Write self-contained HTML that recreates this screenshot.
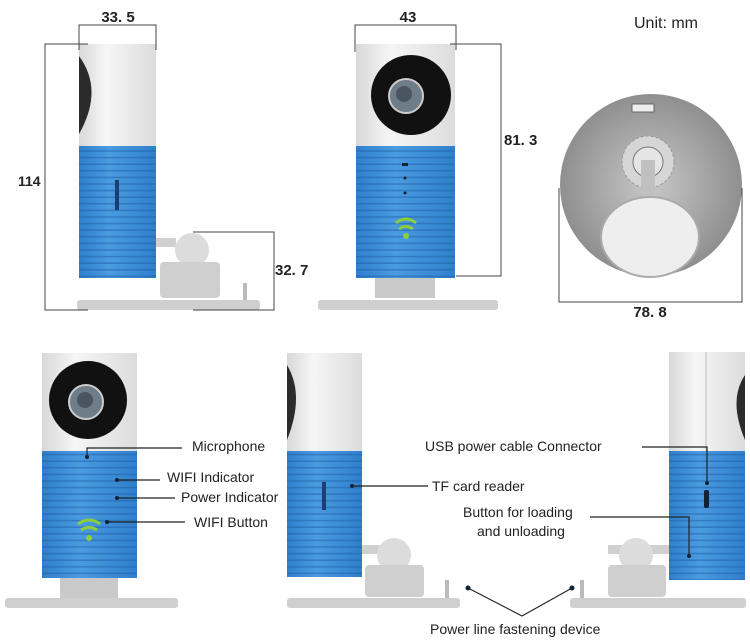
<!DOCTYPE html>
<html><head><meta charset="utf-8"><style>
body{margin:0;background:#fff}
svg{display:block}
text{font-family:"Liberation Sans",Arial,sans-serif;fill:#222}
</style></head><body>
<svg width="750" height="643" viewBox="0 0 750 643" xmlns="http://www.w3.org/2000/svg">
<defs>
<linearGradient id="wh" x1="0" x2="1"><stop offset="0" stop-color="#d8d8d8"/><stop offset=".35" stop-color="#f6f6f6"/><stop offset="1" stop-color="#dcdcdc"/></linearGradient>
<linearGradient id="bl" x1="0" x2="1"><stop offset="0" stop-color="#2f7fcc"/><stop offset=".4" stop-color="#4a9be0"/><stop offset="1" stop-color="#2f7fcc"/></linearGradient>
<pattern id="rid" width="10" height="6.6" patternUnits="userSpaceOnUse"><rect y="5" width="10" height="1.6" fill="#1f5fa6" opacity=".5"/></pattern>
<radialGradient id="gr"><stop offset="0" stop-color="#c8c8c8"/><stop offset="1" stop-color="#8f8f8f"/></radialGradient>
</defs>

<!-- TOP LEFT camera -->
<rect x="79" y="44" width="77" height="102" fill="url(#wh)"/>
<path d="M79 56 Q104 90 79 134 Z" fill="#2b2b2b"/>
<rect x="79" y="146" width="77" height="132" fill="url(#bl)"/><rect x="79" y="146" width="77" height="132" fill="url(#rid)"/>
<rect x="115" y="180" width="4" height="30" fill="#1c3f73"/>
<rect x="156" y="238" width="20" height="9" fill="#d0d0d0"/>
<circle cx="192" cy="250" r="17" fill="#dcdcdc"/>
<rect x="160" y="262" width="60" height="36" rx="4" fill="#cfcfcf"/>
<rect x="77" y="300" width="183" height="10" rx="3" fill="#cfcfcf"/>
<rect x="243" y="283" width="4" height="17" fill="#bbb"/>
<g stroke="#444" fill="none" stroke-width="1">
<path d="M79 50 V25 H156 V50"/>
<path d="M88 44 H45 V310 H88"/>
<path d="M193 232 H274 V310 H193"/>
</g>
<text x="118" y="22" font-size="15" text-anchor="middle" font-weight="bold">33. 5</text>
<text x="18" y="186" font-size="14" font-weight="bold">114</text>
<text x="275" y="275" font-size="15" font-weight="bold">32. 7</text>

<!-- TOP MID camera -->
<rect x="356" y="44" width="99" height="102" fill="url(#wh)"/>
<circle cx="411" cy="95" r="40" fill="#111"/>
<circle cx="406" cy="96" r="17" fill="#6f7d88" stroke="#ccc" stroke-width="2"/>
<circle cx="404" cy="94" r="8" fill="#4a5560"/>
<rect x="356" y="146" width="99" height="132" fill="url(#bl)"/><rect x="356" y="146" width="99" height="132" fill="url(#rid)"/>
<rect x="402" y="163" width="6" height="3" fill="#123"/><circle cx="405" cy="178" r="1.5" fill="#123"/><circle cx="405" cy="193" r="1.5" fill="#123"/>
<path d="M396 223 Q406 215 416 223" stroke="#8dcf3a" stroke-width="3" fill="none"/><path d="M399 229 Q406 224 413 229" stroke="#8dcf3a" stroke-width="3" fill="none"/><circle cx="406" cy="236" r="3" fill="#8dcf3a"/>
<rect x="375" y="278" width="60" height="20" fill="#c9c9c9"/>
<rect x="318" y="300" width="180" height="10" rx="3" fill="#cfcfcf"/>
<g stroke="#444" fill="none" stroke-width="1">
<path d="M355 52 V25 H456 V50"/>
<path d="M450 44 H501 V276 H456"/>
</g>
<text x="408" y="22" font-size="15" text-anchor="middle" font-weight="bold">43</text>
<text x="504" y="145" font-size="15" font-weight="bold">81. 3</text>

<!-- TOP RIGHT -->
<text x="634" y="28" font-size="16" fill="#333">Unit: mm</text>
<circle cx="651" cy="185" r="91" fill="url(#gr)"/>
<rect x="632" y="104" width="22" height="8" fill="#eee" stroke="#666"/>
<circle cx="648" cy="162" r="26" fill="#d6d6d6" stroke="#999" stroke-dasharray="3 2"/>
<circle cx="648" cy="162" r="15" fill="#e5e5e5" stroke="#777"/>
<rect x="641" y="160" width="14" height="36" fill="#c0c0c0"/>
<ellipse cx="650" cy="237" rx="49" ry="40" fill="#eeeeee" stroke="#aaa" stroke-width="2"/>
<path d="M559 188 V302 H742 V188" stroke="#444" fill="none"/>
<text x="650" y="317" font-size="15" text-anchor="middle" font-weight="bold">78. 8</text>

<!-- BOTTOM LEFT camera -->
<rect x="42" y="353" width="95" height="98" fill="url(#wh)"/>
<circle cx="88" cy="400" r="39" fill="#111"/>
<circle cx="86" cy="402" r="17" fill="#6f7d88" stroke="#ccc" stroke-width="2"/>
<circle cx="85" cy="400" r="8" fill="#4a5560"/>
<rect x="42" y="451" width="95" height="127" fill="url(#bl)"/><rect x="42" y="451" width="95" height="127" fill="url(#rid)"/>
<path d="M78 524 Q89 516 100 524" stroke="#8dcf3a" stroke-width="3" fill="none"/><path d="M81 530 Q89 525 97 530" stroke="#8dcf3a" stroke-width="3" fill="none"/><circle cx="89" cy="538" r="3" fill="#8dcf3a"/>
<rect x="60" y="578" width="58" height="20" fill="#c9c9c9"/>
<rect x="5" y="598" width="173" height="10" rx="3" fill="#cfcfcf"/>
<g stroke="#222" stroke-width="1.2" fill="none">
<path d="M87 456 V448 H182"/><path d="M117 480 H160"/><path d="M117 498 H175"/><path d="M107 522 H185"/>
</g>
<g fill="#123"><circle cx="87" cy="457" r="2"/><circle cx="117" cy="480" r="2"/><circle cx="117" cy="498" r="2"/><circle cx="107" cy="522" r="2"/></g>
<text x="192" y="451" font-size="14">Microphone</text>
<text x="167" y="482" font-size="14">WIFI Indicator</text>
<text x="181" y="502" font-size="14">Power Indicator</text>
<text x="194" y="527" font-size="14">WIFI Button</text>

<!-- BOTTOM MID camera -->
<rect x="287" y="353" width="75" height="98" fill="url(#wh)"/>
<path d="M287 365 Q305 395 287 440 Z" fill="#2b2b2b"/>
<rect x="287" y="451" width="75" height="126" fill="url(#bl)"/><rect x="287" y="451" width="75" height="126" fill="url(#rid)"/>
<rect x="322" y="482" width="4" height="28" fill="#1c3f73"/>
<rect x="362" y="545" width="20" height="9" fill="#d0d0d0"/>
<circle cx="394" cy="555" r="17" fill="#dcdcdc"/>
<rect x="365" y="565" width="59" height="32" rx="4" fill="#cfcfcf"/>
<rect x="287" y="598" width="173" height="10" rx="3" fill="#cfcfcf"/>
<rect x="445" y="580" width="4" height="18" fill="#bbb"/>
<path d="M352 486 H428" stroke="#222" stroke-width="1.2"/><circle cx="352" cy="486" r="2" fill="#123"/>
<text x="432" y="491" font-size="14">TF card reader</text>

<!-- BOTTOM RIGHT camera -->
<rect x="669" y="352" width="76" height="99" fill="url(#wh)"/>
<line x1="706" y1="352" x2="706" y2="451" stroke="#bbb"/>
<path d="M745 375 Q728 400 745 440 Z" fill="#2b2b2b"/>
<rect x="669" y="451" width="76" height="129" fill="url(#bl)"/><rect x="669" y="451" width="76" height="129" fill="url(#rid)"/>
<rect x="704" y="490" width="5" height="18" rx="2" fill="#123"/>
<rect x="608" y="545" width="61" height="9" fill="#d0d0d0"/>
<circle cx="636" cy="555" r="17" fill="#dcdcdc"/>
<rect x="608" y="565" width="58" height="32" rx="4" fill="#cfcfcf"/>
<rect x="570" y="598" width="176" height="10" rx="3" fill="#cfcfcf"/>
<rect x="580" y="580" width="4" height="18" fill="#bbb"/>
<g stroke="#222" stroke-width="1.2" fill="none">
<path d="M642 447 H707 V483"/><path d="M590 517 H689 V556"/>
<path d="M468 588 L522 616 L572 588"/>
</g>
<g fill="#123"><circle cx="707" cy="483" r="2"/><circle cx="689" cy="556" r="2"/><circle cx="468" cy="588" r="2.5"/><circle cx="572" cy="588" r="2.5"/></g>
<text x="425" y="451" font-size="14">USB power cable Connector</text>
<text x="463" y="517" font-size="14">Button for loading</text>
<text x="477" y="536" font-size="14">and unloading</text>
<text x="430" y="634" font-size="14">Power line fastening device</text>
</svg>
</body></html>
